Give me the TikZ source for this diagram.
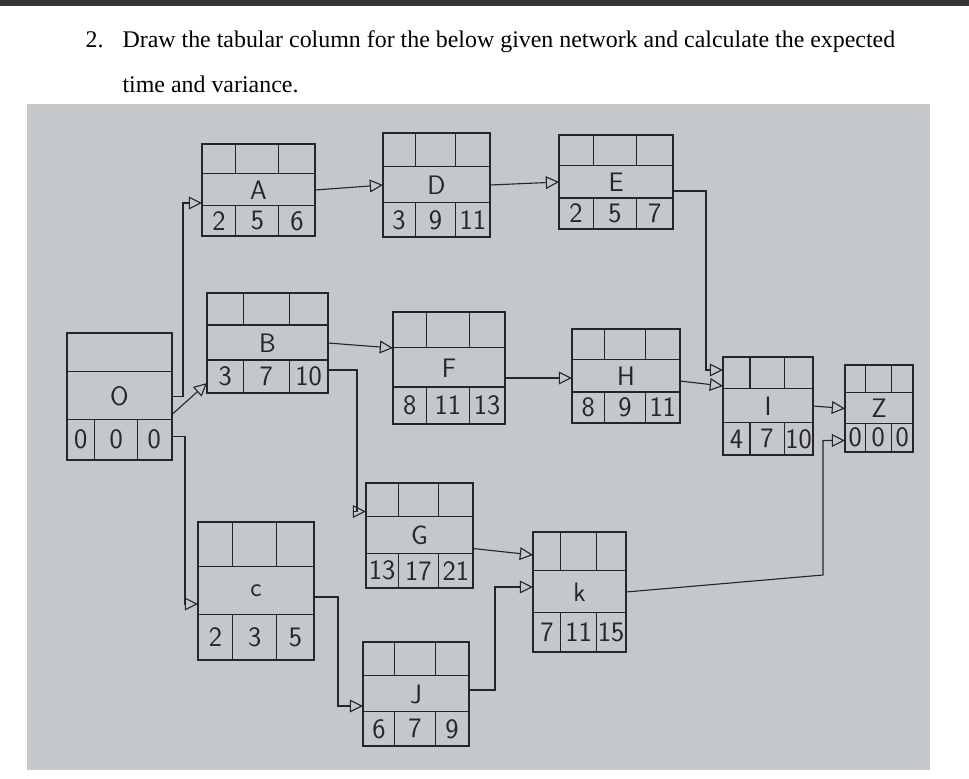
\documentclass[tikz,border=0pt]{standalone}
\usepackage{fontspec}
\setmainfont{Liberation Serif}
\usetikzlibrary{arrows.meta,calc}
\definecolor{photo}{RGB}{197,200,202}
\definecolor{pen}{RGB}{38,38,40}
\definecolor{bar}{RGB}{52,55,58}
\tikzset{
  actbox/.style={draw, inner sep=0pt, outer sep=0pt, font=\sffamily\fontsize{19}{19}\selectfont},
  num/.style={inner sep=0pt, font=\sffamily\fontsize{20}{20}\selectfont},
  arr/.style={-{Triangle[open,length=3.3mm,width=3.2mm]}},
  heading/.style={inner sep=0pt, text=black, font=\fontsize{17}{20}\selectfont}
}
% name, x, y, width, height, activity, three times
\newcommand{\netbox}[9]{%
  \node[actbox, minimum width=#4*0.025cm, minimum height=#5*0.025cm] (#1) at (#2,#3) {#6};
  \coordinate (#1-r1) at ($(#1.north west)!.32!(#1.south west)$);
  \coordinate (#1-r2) at ($(#1.north west)!.67!(#1.south west)$);
  \coordinate (#1-c1) at ($(#1.north west)!.3!(#1.north east)$);
  \coordinate (#1-c2) at ($(#1.north west)!.68!(#1.north east)$);
  \coordinate (#1-b) at ($(#1.north west)!.835!(#1.south west)$);
  \draw (#1-r1) -- (#1-r1 -| #1.east) (#1-r2) -- (#1-r2 -| #1.east);
  \draw (#1-c1) -- (#1-c1 |- #1-r1) (#1-c2) -- (#1-c2 |- #1-r1);
  \draw (#1-c1 |- #1-r2) -- (#1-c1 |- #1.south) (#1-c2 |- #1-r2) -- (#1-c2 |- #1.south);
  \node[num] (#1-t1) at ($(#1-b)!.15!(#1-b -| #1.east)$) {#7};
  \node[num] (#1-t2) at ($(#1-b)!.49!(#1-b -| #1.east)$) {#8};
  \node[num] (#1-t3) at ($(#1-b)!.84!(#1-b -| #1.east)$) {#9};
}

\begin{document}
\begin{tikzpicture}[x=0.025cm, y=-0.025cm, color=pen, line width=0.8pt]
\useasboundingbox (0,0) rectangle (969,778);
\fill[bar] (0,0) rectangle (969,6);
\fill[photo] (27,104) rectangle (930,770);
\node[heading, anchor=base west] (qno) at (85,47) {2.};
\node[heading, anchor=base west] (q1) at (122,47) {Draw the tabular column for the below given network and calculate the expected};
\node[heading, anchor=base west] (q2) at (122,92) {time and variance.};

% start box
\node[actbox, minimum width=105*0.025cm, minimum height=127*0.025cm] (O) at (119.5,396.5) {O};
\coordinate (O-r1) at ($(O.north west)!.3!(O.south west)$);
\coordinate (O-r2) at ($(O.north west)!.68!(O.south west)$);
\coordinate (O-b) at ($(O.north west)!.84!(O.south west)$);
\draw (O-r1) -- (O-r1 -| O.east) (O-r2) -- (O-r2 -| O.east);
\draw ($(O-r2)!.26!(O-r2 -| O.east)$) -- +(0,40.6) ($(O-r2)!.67!(O-r2 -| O.east)$) -- +(0,40.6);
\node[num] (O-t1) at ($(O-b)!.13!(O-b -| O.east)$) {0};
\node[num] (O-t2) at ($(O-b)!.47!(O-b -| O.east)$) {0};
\node[num] (O-t3) at ($(O-b)!.83!(O-b -| O.east)$) {0};

\netbox{A}{258.5}{190}{113}{92}{A}{2}{5}{6}
\netbox{D}{436.5}{185}{107}{104}{D}{3}{9}{11}
\netbox{E}{616}{182}{114}{94}{E}{2}{5}{7}
\netbox{B}{267.5}{343}{121}{100}{B}{3}{7}{10}
\netbox{F}{449}{368}{112}{112}{F}{8}{11}{13}
\netbox{H}{626}{376}{108}{94}{H}{8}{9}{11}
\netbox{I}{768}{406}{90}{98}{I}{4}{7}{10}
\netbox{Z}{879}{408.5}{68}{87}{Z}{0}{0}{0}
\netbox{C}{256}{591}{116}{138}{c}{2}{3}{5}
\netbox{G}{419.5}{535.5}{107}{105}{G}{13}{17}{21}
\netbox{J}{416}{694}{106}{104}{J}{6}{7}{9}
\netbox{K}{579.5}{592}{93}{120}{k}{7}{11}{15}

\draw[arr] (O.east) -- ++(11,0) |- ($(A.west)+(0,13)$);
\draw[arr] ($(O.east)+(0,18)$) -- ($(B.west)+(0,40)$);
\draw[arr] ($(O.east)+(0,40)$) -- ++(13,0) |- ($(C.west)+(0,13)$);
\draw[arr] (A.east) -- (D.west);
\draw[arr] (D.east) -- (E.west);
\draw[arr] ($(E.east)+(0,9)$) -- ++(33,0) |- ($(I.west)+(0,-36)$);
\draw[arr] (B.east) -- ($(F.west)+(0,-20)$);
\draw[arr] ($(B.east)+(0,27)$) -- ++(29,0) |- ($(G.west)+(0,-24)$);
\draw[arr] ($(F.east)+(0,10)$) -- ($(H.west)+(0,2)$);
\draw[arr] ($(H.east)+(0,5)$) -- ($(I.west)+(0,-20)$);
\draw[arr] (I.east) -- (Z.west);
\draw[arr] ($(C.east)+(0,6)$) -- ++(24,0) |- ($(J.west)+(0,12)$);
\draw[arr] ($(G.east)+(0,13)$) -- ($(K.west)+(0,-37)$);
\draw[arr] ($(J.east)+(0,-4)$) -- ++(26,0) |- ($(K.west)+(0,-5)$);
\draw[arr] (K.east) -- ++(197,-17) |- ($(Z.west)+(0,32)$);
\end{tikzpicture}
\end{document}
